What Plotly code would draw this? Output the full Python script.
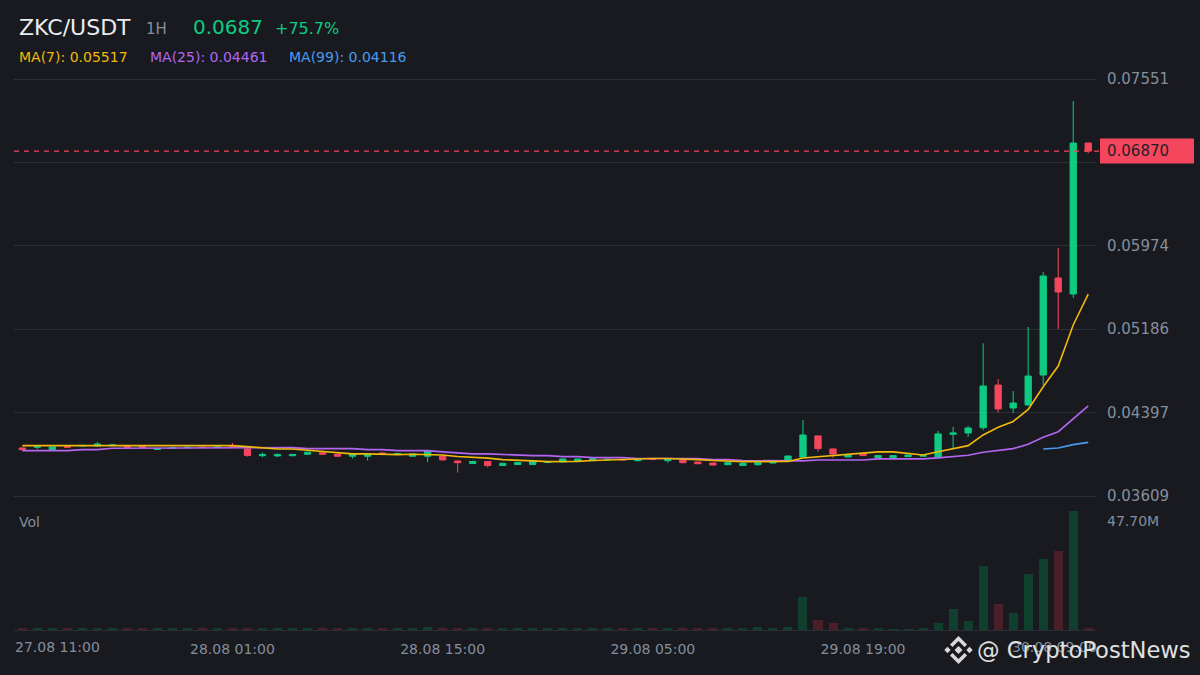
import plotly.graph_objects as go
import pandas as pd

# ---------------- data ----------------
times = pd.date_range("2025-08-27 11:00", periods=72, freq="h")

opens = [0.04063, 0.04070, 0.04047, 0.04076, 0.04082, 0.04082, 0.04085, 0.04076, 0.04076, 0.04049,
         0.04060, 0.04066, 0.04070, 0.04068, 0.04075, 0.04054, 0.03990, 0.03988, 0.03990, 0.04004,
         0.04018, 0.04004, 0.03985, 0.03985, 0.04016, 0.04004, 0.03985, 0.03985, 0.03988, 0.03940,
         0.03917, 0.03935, 0.03898, 0.03907, 0.03907, 0.03926, 0.03931, 0.03937, 0.03943, 0.03952,
         0.03956, 0.03943, 0.03958, 0.03943, 0.03949, 0.03930, 0.03921, 0.03905, 0.03898, 0.03905,
         0.03921, 0.03940, 0.03975, 0.04177, 0.04054, 0.03978, 0.04010, 0.03972, 0.03972, 0.03981,
         0.03985, 0.03975, 0.04193, 0.04205, 0.04255, 0.04658, 0.04441, 0.04470, 0.04753, 0.05670,
         0.05519, 0.06946]
highs = [0.04068, 0.04080, 0.04078, 0.04078, 0.04094, 0.04120, 0.04098, 0.04079, 0.04078, 0.04060,
         0.04070, 0.04074, 0.04074, 0.04076, 0.04111, 0.04058, 0.04020, 0.04010, 0.04006, 0.04027,
         0.04021, 0.04007, 0.04004, 0.04007, 0.04019, 0.04014, 0.04010, 0.04035, 0.03992, 0.03943,
         0.03944, 0.03938, 0.03926, 0.03929, 0.03951, 0.03936, 0.03962, 0.03962, 0.03965, 0.03959,
         0.03960, 0.03962, 0.03961, 0.03962, 0.03952, 0.03933, 0.03924, 0.03927, 0.03930, 0.03927,
         0.03938, 0.03990, 0.04328, 0.04180, 0.04057, 0.04000, 0.04013, 0.03997, 0.03994, 0.04000,
         0.03997, 0.04224, 0.04262, 0.04271, 0.05053, 0.04715, 0.04602, 0.05207, 0.05727, 0.05953,
         0.07343, 0.06950]
lows = [0.04040, 0.04050, 0.04043, 0.04068, 0.04080, 0.04078, 0.04083, 0.04068, 0.04066, 0.04046,
        0.04057, 0.04062, 0.04064, 0.04065, 0.04065, 0.03982, 0.03976, 0.03978, 0.03984, 0.04000,
        0.03995, 0.03982, 0.03963, 0.03944, 0.04001, 0.04000, 0.03982, 0.03928, 0.03947, 0.03830,
        0.03914, 0.03879, 0.03895, 0.03904, 0.03904, 0.03920, 0.03928, 0.03934, 0.03940, 0.03942,
        0.03946, 0.03934, 0.03950, 0.03924, 0.03918, 0.03911, 0.03899, 0.03902, 0.03895, 0.03895,
        0.03918, 0.03937, 0.03972, 0.04029, 0.03971, 0.03975, 0.03988, 0.03969, 0.03969, 0.03978,
        0.03982, 0.03972, 0.04054, 0.04167, 0.04231, 0.04397, 0.04394, 0.04460, 0.04658, 0.05188,
        0.05481, 0.06850]
closes = [0.04047, 0.04075, 0.04073, 0.04071, 0.04087, 0.04101, 0.04092, 0.04071, 0.04070, 0.04058,
          0.04066, 0.04070, 0.04068, 0.04072, 0.04070, 0.03991, 0.04002, 0.04002, 0.04002, 0.04023,
          0.04004, 0.03985, 0.04001, 0.04004, 0.04004, 0.04010, 0.04007, 0.04032, 0.03950, 0.03924,
          0.03935, 0.03898, 0.03917, 0.03926, 0.03939, 0.03930, 0.03959, 0.03959, 0.03962, 0.03956,
          0.03950, 0.03959, 0.03955, 0.03959, 0.03924, 0.03914, 0.03902, 0.03924, 0.03917, 0.03924,
          0.03935, 0.03987, 0.04186, 0.04057, 0.04006, 0.03997, 0.03991, 0.03991, 0.03991, 0.03997,
          0.03994, 0.04196, 0.04205, 0.04252, 0.04649, 0.04432, 0.04488, 0.04743, 0.05689, 0.05538,
          0.06946, 0.06870]

ma7 = [0.04085, 0.04085, 0.04085, 0.04085, 0.04078, 0.04078, 0.04085, 0.04085, 0.04085, 0.04085,
       0.04085, 0.04085, 0.04085, 0.04085, 0.04085, 0.04076, 0.04066, 0.04054, 0.04054, 0.04042,
       0.04026, 0.04016, 0.04007, 0.04007, 0.04000, 0.04000, 0.04004, 0.04004, 0.03997, 0.03983,
       0.03976, 0.03967, 0.03953, 0.03944, 0.03941, 0.03934, 0.03934, 0.03936, 0.03944, 0.03950,
       0.03955, 0.03963, 0.03963, 0.03963, 0.03960, 0.03953, 0.03944, 0.03938, 0.03934, 0.03934,
       0.03934, 0.03936, 0.03969, 0.03981, 0.03997, 0.04007, 0.04019, 0.04026, 0.04026, 0.04013,
       0.03997, 0.04028, 0.04057, 0.04085, 0.04186, 0.04259, 0.04314, 0.04427, 0.04642, 0.04838,
       0.05226, 0.05517]
ma25 = [0.04038, 0.04038, 0.04038, 0.04038, 0.04047, 0.04047, 0.04061, 0.04061, 0.04061, 0.04061,
        0.04066, 0.04066, 0.04066, 0.04066, 0.04066, 0.04066, 0.04066, 0.04066, 0.04066, 0.04057,
        0.04057, 0.04057, 0.04057, 0.04047, 0.04047, 0.04038, 0.04038, 0.04038, 0.04026, 0.04016,
        0.04007, 0.04007, 0.04000, 0.04000, 0.03991, 0.03991, 0.03981, 0.03981, 0.03972, 0.03972,
        0.03972, 0.03963, 0.03963, 0.03963, 0.03963, 0.03963, 0.03953, 0.03953, 0.03944, 0.03944,
        0.03944, 0.03944, 0.03941, 0.03950, 0.03950, 0.03950, 0.03950, 0.03960, 0.03960, 0.03960,
        0.03960, 0.03969, 0.03978, 0.03994, 0.04022, 0.04038, 0.04057, 0.04098, 0.04165, 0.04217,
        0.04335, 0.04461]
ma99 = [None] * 68 + [0.04054, 0.04063, 0.04095, 0.04116]

volumes_m = [0.5, 0.4, 0.5, 0.4, 0.4, 0.6, 0.4, 0.4, 0.4, 0.5,
             0.4, 0.4, 0.4, 0.4, 0.5, 0.7, 0.5, 0.5, 0.4, 0.5,
             0.4, 0.5, 0.4, 0.5, 0.4, 0.4, 0.5, 1.3, 0.5, 0.6,
             0.5, 0.6, 0.5, 0.5, 0.5, 0.4, 0.5, 0.5, 0.5, 0.5,
             0.4, 0.5, 0.4, 0.5, 0.4, 0.5, 0.4, 0.5, 0.5, 1.2,
             0.5, 1.2, 14.4, 4.4, 3.1, 0.4, 0.4, 0.4, 0.3, 0.3,
             0.9, 3.1, 9.2, 3.9, 27.9, 11.4, 7.4, 24.5, 31.0, 34.5,
             52.0, 0.5]

price_ticks = [0.03609, 0.04397, 0.05186, 0.05974, 0.06763, 0.07551]
price_tick_text = ["0.03609", "0.04397", "0.05186", "0.05974", "", "0.07551"]
vol_ticks = [47.7]
vol_tick_text = ["47.70M"]
x_tick_vals = ["2025-08-28 01:00", "2025-08-28 15:00", "2025-08-29 05:00", "2025-08-29 19:00"]
x_tick_text = ["28.08 01:00", "28.08 15:00", "29.08 05:00", "29.08 19:00"]
edge_tick_text = ["27.08 11:00", "30.08 09:00"]

# ---------------- style ----------------
BG = "#181a20"
GRID = "#2b2f36"
TXT = "#848e9c"
UP = "#0ecb81"
DOWN = "#f6465d"
UP_VOL = "#103f2e"
DOWN_VOL = "#4a1f28"
C_MA7 = "#f0b90b"
C_MA25 = "#b466f0"
C_MA99 = "#4b9af0"
FONT = "DejaVu Sans"

W, H = 1200, 675
L, R, T, B = 14, 104, 60, 45
PW, PH = W - L - R, H - T - B


def px(x):
    return (x - L) / PW


def py(y):
    return (H - B - y) / PH


vol_colors = [UP_VOL if c >= o else DOWN_VOL for o, c in zip(opens, closes)]

fig = go.Figure()
fig.add_trace(go.Candlestick(
    x=times, open=opens, high=highs, low=lows, close=closes,
    increasing=dict(line=dict(color=UP, width=1), fillcolor=UP),
    decreasing=dict(line=dict(color=DOWN, width=1), fillcolor=DOWN),
    whiskerwidth=0, xaxis="x", yaxis="y", showlegend=False, hoverinfo="skip",
))
fig.add_trace(go.Scatter(x=times, y=ma25, mode="lines", line=dict(color=C_MA25, width=1.6),
                         xaxis="x", yaxis="y", showlegend=False, hoverinfo="skip"))
fig.add_trace(go.Scatter(x=times, y=ma7, mode="lines", line=dict(color=C_MA7, width=1.6),
                         xaxis="x", yaxis="y", showlegend=False, hoverinfo="skip"))
fig.add_trace(go.Scatter(x=times, y=ma99, mode="lines", line=dict(color=C_MA99, width=1.6),
                         xaxis="x", yaxis="y", showlegend=False, hoverinfo="skip"))
fig.add_trace(go.Bar(x=times, y=volumes_m, marker=dict(color=vol_colors, line=dict(width=0)),
                     width=0.6 * 3600 * 1000, xaxis="x", yaxis="y2", showlegend=False,
                     hoverinfo="skip"))

fig.update_layout(
    width=W, height=H,
    margin=dict(l=L, r=R, t=T, b=B),
    paper_bgcolor=BG, plot_bgcolor=BG,
    font=dict(family=FONT, color=TXT, size=14),
    boxgap=0.4,
    bargap=0,
    xaxis=dict(
        type="date", anchor="y2",
        range=["2025-08-27 10:27:00", "2025-08-30 10:31:00"],
        tickvals=x_tick_vals, ticktext=x_tick_text,
        tickfont=dict(size=14, color=TXT),
        showgrid=False, zeroline=False, showline=True, linecolor=GRID, linewidth=1,
        ticks="", ticklabelstandoff=6,
        rangeslider=dict(visible=False), fixedrange=True,
    ),
    yaxis=dict(
        domain=[py(500), 1.0], anchor="x", side="right",
        range=[0.035712, 0.07731],
        tickvals=price_ticks, ticktext=price_tick_text,
        tickfont=dict(size=15, color=TXT),
        showgrid=True, gridcolor=GRID, gridwidth=1,
        zeroline=False, showline=False, ticks="", ticklabelstandoff=10, fixedrange=True,
    ),
    yaxis2=dict(
        domain=[0, py(505.2)], anchor="x", side="right",
        range=[0, 54.5],
        tickvals=vol_ticks, ticktext=vol_tick_text,
        tickfont=dict(size=14, color=TXT),
        showgrid=False, zeroline=False, showline=False, ticks="", ticklabelstandoff=10,
        fixedrange=True,
    ),
)

last_close = closes[-1]

shapes = [
    # last price dashed line
    dict(type="line", xref="paper", yref="y", x0=0, x1=px(1100), y0=last_close, y1=last_close,
         line=dict(color=DOWN, width=1.3, dash="5px,5px"), layer="above"),
    # price tag box
    dict(type="rect", xref="paper", yref="y", ysizemode="pixel", yanchor=last_close,
         x0=px(1100), x1=px(1194), y0=-12.5, y1=12.5,
         fillcolor=DOWN, line=dict(width=0), layer="above"),
]


# watermark logo (Binance-like diamond mark)
def poly(pts):
    d = "M " + " L ".join(f"{px(a):.5f},{py(b):.5f}" for a, b in pts) + " Z"
    return dict(type="path", xref="paper", yref="paper", path=d,
                fillcolor="#d9d9d9", line=dict(width=0), layer="above")


cx, cy = 958.5, 650
shapes += [
    poly([(cx, cy - 4), (cx + 4, cy), (cx, cy + 4), (cx - 4, cy)]),
    poly([(cx - 11, cy - 3.2), (cx - 7.8, cy), (cx - 11, cy + 3.2), (cx - 14.2, cy)]),
    poly([(cx + 11, cy - 3.2), (cx + 14.2, cy), (cx + 11, cy + 3.2), (cx + 7.8, cy)]),
    poly([(cx, cy - 14), (cx + 8.5, cy - 5.5), (cx + 6, cy - 3), (cx, cy - 9), (cx - 6, cy - 3), (cx - 8.5, cy - 5.5)]),
    poly([(cx, cy + 14), (cx + 8.5, cy + 5.5), (cx + 6, cy + 3), (cx, cy + 9), (cx - 6, cy + 3), (cx - 8.5, cy + 5.5)]),
]
fig.update_layout(shapes=shapes)


def ann(text, x, y, size, color, xanchor="left", **kw):
    return dict(text=text, xref="paper", yref="paper", x=px(x), y=py(y), xanchor=xanchor,
                yanchor="middle", showarrow=False, font=dict(size=size, color=color, family=FONT), **kw)


annotations = [
    ann("ZKC/USDT", 17, 27, 22, "#eaecef"),
    ann("1H", 144, 29, 15, TXT),
    ann("0.0687", 191, 27, 20, UP),
    ann("+75.7%", 273, 28, 16, UP),
    ann("MA(7): 0.05517", 17, 57, 14, C_MA7),
    ann("MA(25): 0.04461", 148, 57, 14, C_MA25),
    ann("MA(99): 0.04116", 287, 57, 14, C_MA99),
    ann("Vol", 17, 522, 14, TXT),
    ann(edge_tick_text[0], 13, 647, 14, TXT),
    ann(edge_tick_text[1], 1054, 647, 14, TXT, xanchor="center"),
    ann("@ CryptoPostNews", 975, 650, 22.6, "#e0e0e0"),
    dict(text="0.06870", xref="paper", yref="y", x=px(1105), y=last_close, xanchor="left",
         yanchor="middle", showarrow=False, font=dict(size=15, color="#1e2026", family=FONT)),
]
fig.update_layout(annotations=annotations)

fig.write_html("out.html", config={"displayModeBar": False},
               post_script="document.body.style.margin='0';document.body.style.background='#181a20';")
